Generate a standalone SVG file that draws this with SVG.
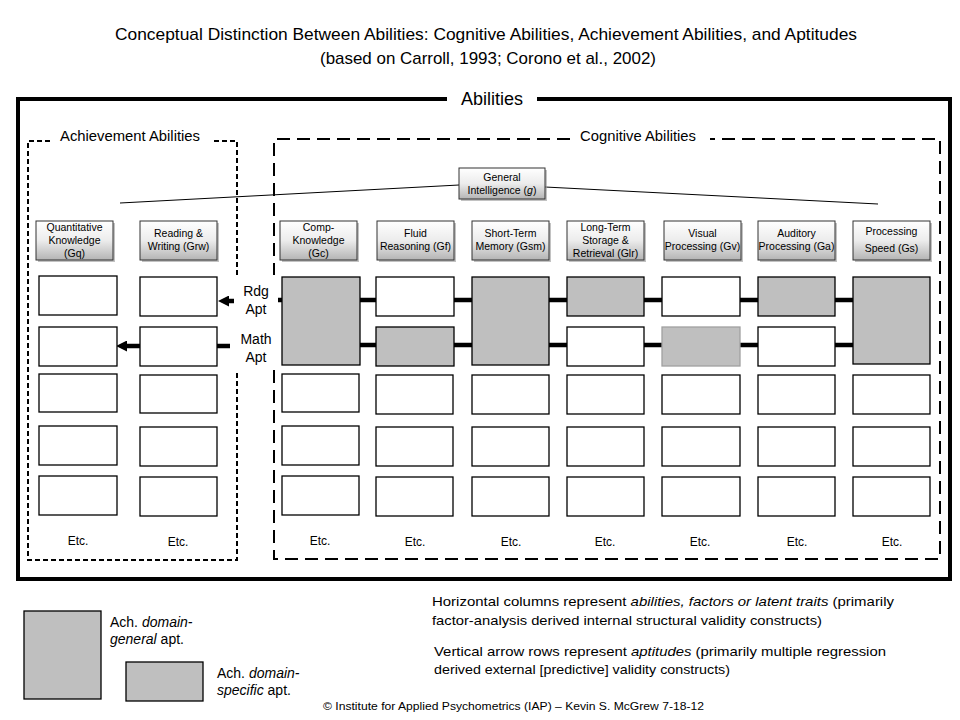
<svg xmlns="http://www.w3.org/2000/svg" width="960" height="720" viewBox="0 0 960 720">
<defs>
<linearGradient id="hg" x1="0" y1="0" x2="0" y2="1">
<stop offset="0" stop-color="#ffffff"/>
<stop offset="0.5" stop-color="#ececec"/>
<stop offset="1" stop-color="#b4b4b4"/>
</linearGradient>
<marker id="ah" viewBox="0 0 10 10" refX="0" refY="5" markerWidth="11" markerHeight="11" markerUnits="userSpaceOnUse" orient="auto">
<path d="M0,0 L10,5 L0,10 z" fill="#000"/>
</marker>
</defs>
<style>
.t{font-family:"Liberation Sans",Arial,sans-serif;fill:#000}
.h{font-size:10.5px;text-anchor:middle}
.hdr{fill:url(#hg);stroke:#333;stroke-width:1}
.sh{fill:#9a9a9a;opacity:0.6}
.cell{fill:#fff;stroke:#000;stroke-width:1.3}
.gray{fill:#bfbfbf;stroke:#000;stroke-width:1.3}
.bar{stroke:#000;stroke-width:4.5;fill:none}
.etc{font-size:12px;text-anchor:middle}
.lbl{font-size:14px}
</style>
<rect width="960" height="720" fill="#fff"/>

<g id="title">
<text class="t" x="486" y="40" font-size="17" text-anchor="middle" textLength="742" lengthAdjust="spacingAndGlyphs">Conceptual Distinction Between Abilities: Cognitive Abilities, Achievement Abilities, and Aptitudes</text>
<text class="t" x="488" y="64" font-size="17" text-anchor="middle" textLength="336" lengthAdjust="spacingAndGlyphs">(based on Carroll, 1993; Corono et al., 2002)</text>
</g>

<g id="abilities-frame">
<path d="M447,99 L18,99 L18,579 L950,579 L950,99 L537,99" fill="none" stroke="#000" stroke-width="4"/>
<text class="t" x="492" y="105" font-size="18" text-anchor="middle">Abilities</text>
</g>

<g id="achievement-frame">
<path d="M50,141 L28,141 L28,560 L237,560 L237,370" fill="none" stroke="#000" stroke-width="2" stroke-dasharray="5,3"/>
<path d="M237,275 L237,141 L212,141" fill="none" stroke="#000" stroke-width="2" stroke-dasharray="5,3"/>
<text class="t lbl" x="60" y="141" textLength="140" lengthAdjust="spacingAndGlyphs">Achievement Abilities</text>
</g>

<g id="cognitive-frame">
<path d="M570,139 L274,139 L274,275" fill="none" stroke="#000" stroke-width="2" stroke-dasharray="13,7"/>
<path d="M274,370 L274,559 L940,559 L940,139 L710,139" fill="none" stroke="#000" stroke-width="2" stroke-dasharray="13,7"/>
<text class="t lbl" x="580" y="141" textLength="116" lengthAdjust="spacingAndGlyphs">Cognitive Abilities</text>
</g>

<g id="connectors">
<line x1="459" y1="185" x2="120" y2="203" stroke="#000" stroke-width="1"/>
<line x1="545" y1="187" x2="878" y2="204" stroke="#000" stroke-width="1"/>
<line class="bar" x1="278" y1="300" x2="282" y2="300"/>
<line class="bar" x1="360" y1="300" x2="376" y2="300"/>
<line class="bar" x1="454" y1="300" x2="472" y2="300"/>
<line class="bar" x1="549" y1="300" x2="567" y2="300"/>
<line class="bar" x1="644" y1="300" x2="662" y2="300"/>
<line class="bar" x1="740" y1="300" x2="758" y2="300"/>
<line class="bar" x1="835" y1="300" x2="853" y2="300"/>
<line class="bar" x1="360" y1="345" x2="376" y2="345"/>
<line class="bar" x1="454" y1="345" x2="472" y2="345"/>
<line class="bar" x1="549" y1="345" x2="567" y2="345"/>
<line class="bar" x1="644" y1="345" x2="662" y2="345"/>
<line class="bar" x1="740" y1="345" x2="758" y2="345"/>
<line class="bar" x1="835" y1="345" x2="853" y2="345"/>
<line class="bar" x1="234" y1="301" x2="229" y2="301" marker-end="url(#ah)"/>
<line class="bar" x1="217" y1="346" x2="230" y2="346"/>
<line class="bar" x1="140" y1="346" x2="127" y2="346" marker-end="url(#ah)"/>
</g>

<g id="apt-labels">
<text class="t" x="256" y="296" font-size="14" text-anchor="middle">Rdg</text>
<text class="t" x="256" y="314" font-size="14" text-anchor="middle">Apt</text>
<text class="t" x="256" y="344" font-size="14" text-anchor="middle">Math</text>
<text class="t" x="256" y="362" font-size="14" text-anchor="middle">Apt</text>
</g>

<g id="node-g">
<rect class="sh" x="461" y="170" width="86" height="31"/>
<rect class="hdr" x="459" y="168" width="86" height="31"/>
<text class="t h" x="502" y="181">General</text>
<text class="t h" x="502" y="194">Intelligence (<tspan font-style="italic">g</tspan>)</text>
</g>

<g id="node-gq">
<rect class="sh" x="38" y="223" width="77" height="39"/>
<rect class="hdr" x="36" y="221" width="77" height="39"/>
<text class="t h" x="74.5" y="231">Quantitative</text>
<text class="t h" x="74.5" y="244">Knowledge</text>
<text class="t h" x="74.5" y="257">(Gq)</text>
</g>
<g id="node-grw">
<rect class="sh" x="142" y="223" width="77" height="39"/>
<rect class="hdr" x="140" y="221" width="77" height="39"/>
<text class="t h" x="178.5" y="237">Reading &amp;</text>
<text class="t h" x="178.5" y="250">Writing (Grw)</text>
</g>
<g id="node-gc">
<rect class="sh" x="282" y="223" width="77" height="39"/>
<rect class="hdr" x="280" y="221" width="77" height="39"/>
<text class="t h" x="318.5" y="231">Comp-</text>
<text class="t h" x="318.5" y="244">Knowledge</text>
<text class="t h" x="318.5" y="257">(Gc)</text>
</g>
<g id="node-gf">
<rect class="sh" x="379" y="223" width="77" height="39"/>
<rect class="hdr" x="377" y="221" width="77" height="39"/>
<text class="t h" x="415.5" y="237">Fluid</text>
<text class="t h" x="415.5" y="250">Reasoning (Gf)</text>
</g>
<g id="node-gsm">
<rect class="sh" x="474" y="223" width="77" height="39"/>
<rect class="hdr" x="472" y="221" width="77" height="39"/>
<text class="t h" x="510.5" y="237">Short-Term</text>
<text class="t h" x="510.5" y="250">Memory (Gsm)</text>
</g>
<g id="node-glr">
<rect class="sh" x="569" y="223" width="77" height="39"/>
<rect class="hdr" x="567" y="221" width="77" height="39"/>
<text class="t h" x="605.5" y="231">Long-Term</text>
<text class="t h" x="605.5" y="244">Storage &amp;</text>
<text class="t h" x="605.5" y="257">Retrieval (Glr)</text>
</g>
<g id="node-gv">
<rect class="sh" x="666" y="223" width="77" height="39"/>
<rect class="hdr" x="664" y="221" width="77" height="39"/>
<text class="t h" x="702.5" y="237">Visual</text>
<text class="t h" x="702.5" y="250">Processing (Gv)</text>
</g>
<g id="node-ga">
<rect class="sh" x="760" y="223" width="77" height="39"/>
<rect class="hdr" x="758" y="221" width="77" height="39"/>
<text class="t h" x="796.5" y="237">Auditory</text>
<text class="t h" x="796.5" y="250">Processing (Ga)</text>
</g>
<g id="node-gs">
<rect class="sh" x="855" y="223" width="77" height="39"/>
<rect class="hdr" x="853" y="221" width="77" height="39"/>
<text class="t h" x="891.5" y="235">Processing</text>
<text class="t h" x="891.5" y="252">Speed (Gs)</text>
</g>

<g id="col-gq">
<rect class="cell" x="39" y="276" width="78" height="39"/>
<rect class="cell" x="39" y="327" width="78" height="39"/>
<rect class="cell" x="39" y="374" width="78" height="38"/>
<rect class="cell" x="39" y="426" width="78" height="39"/>
<rect class="cell" x="39" y="476" width="78" height="39"/>
<text class="t etc" x="78" y="545">Etc.</text>
</g>
<g id="col-grw">
<rect class="cell" x="140" y="277" width="77" height="39"/>
<rect class="cell" x="140" y="327" width="77" height="39"/>
<rect class="cell" x="140" y="375" width="77" height="38"/>
<rect class="cell" x="140" y="427" width="77" height="39"/>
<rect class="cell" x="140" y="477" width="77" height="39"/>
<text class="t etc" x="178" y="546">Etc.</text>
</g>
<g id="col-gc">
<rect class="gray" x="282" y="277" width="78" height="88"/>
<rect class="cell" x="282" y="374" width="77" height="38"/>
<rect class="cell" x="282" y="426" width="77" height="39"/>
<rect class="cell" x="282" y="476" width="77" height="39"/>
<text class="t etc" x="320" y="545">Etc.</text>
</g>
<g id="col-gf">
<rect class="cell" x="376" y="277" width="78" height="39"/>
<rect class="gray" x="376" y="327" width="78" height="39"/>
<rect class="cell" x="376" y="375" width="77" height="39"/>
<rect class="cell" x="376" y="427" width="77" height="39"/>
<rect class="cell" x="376" y="477" width="77" height="39"/>
<text class="t etc" x="415" y="546">Etc.</text>
</g>
<g id="col-gsm">
<rect class="gray" x="472" y="277" width="77" height="88"/>
<rect class="cell" x="472" y="375" width="77" height="39"/>
<rect class="cell" x="472" y="427" width="77" height="39"/>
<rect class="cell" x="472" y="477" width="77" height="39"/>
<text class="t etc" x="511" y="546">Etc.</text>
</g>
<g id="col-glr">
<rect class="gray" x="567" y="277" width="77" height="39"/>
<rect class="cell" x="567" y="327" width="77" height="39"/>
<rect class="cell" x="567" y="375" width="77" height="39"/>
<rect class="cell" x="567" y="427" width="77" height="39"/>
<rect class="cell" x="567" y="477" width="77" height="39"/>
<text class="t etc" x="605" y="546">Etc.</text>
</g>
<g id="col-gv">
<rect class="cell" x="662" y="277" width="78" height="39"/>
<rect x="662" y="327" width="78" height="39" fill="#bfbfbf" stroke="#a0a0a0" stroke-width="1.3"/>
<rect class="cell" x="662" y="375" width="78" height="39"/>
<rect class="cell" x="662" y="427" width="78" height="39"/>
<rect class="cell" x="662" y="477" width="78" height="39"/>
<text class="t etc" x="700" y="546">Etc.</text>
</g>
<g id="col-ga">
<rect class="gray" x="758" y="277" width="77" height="39"/>
<rect class="cell" x="758" y="327" width="77" height="39"/>
<rect class="cell" x="758" y="375" width="77" height="39"/>
<rect class="cell" x="758" y="427" width="77" height="39"/>
<rect class="cell" x="758" y="477" width="77" height="39"/>
<text class="t etc" x="797" y="546">Etc.</text>
</g>
<g id="col-gs">
<rect class="gray" x="853" y="277" width="77" height="87"/>
<rect class="cell" x="853" y="375" width="77" height="39"/>
<rect class="cell" x="853" y="427" width="77" height="39"/>
<rect class="cell" x="853" y="477" width="77" height="39"/>
<text class="t etc" x="892" y="546">Etc.</text>
</g>

<g id="legend">
<rect class="gray" x="24" y="611" width="77" height="88"/>
<text class="t lbl" x="110" y="627">Ach. <tspan font-style="italic">domain-</tspan></text>
<text class="t lbl" x="110" y="644"><tspan font-style="italic">general</tspan> apt.</text>
<rect class="gray" x="126" y="662" width="77" height="39"/>
<text class="t lbl" x="217" y="678">Ach. <tspan font-style="italic">domain-</tspan></text>
<text class="t lbl" x="217" y="695"><tspan font-style="italic">specific</tspan> apt.</text>
</g>

<g id="notes">
<text class="t" x="432" y="606" font-size="13.5" textLength="462" lengthAdjust="spacingAndGlyphs">Horizontal columns represent <tspan font-style="italic">abilities, factors or latent traits</tspan> (primarily</text>
<text class="t" x="432" y="625" font-size="13.5" textLength="390" lengthAdjust="spacingAndGlyphs">factor-analysis derived internal structural validity constructs)</text>
<text class="t" x="434" y="656" font-size="13.5" textLength="452" lengthAdjust="spacingAndGlyphs">Vertical arrow rows represent <tspan font-style="italic">aptitudes</tspan> (primarily multiple regression</text>
<text class="t" x="434" y="674" font-size="13.5" textLength="296" lengthAdjust="spacingAndGlyphs">derived external [predictive] validity constructs)</text>
</g>

<g id="footer">
<text class="t" x="323" y="710" font-size="11.5" textLength="381" lengthAdjust="spacingAndGlyphs">© Institute  for Applied Psychometrics (IAP) – Kevin S. McGrew 7-18-12</text>
</g>
</svg>
